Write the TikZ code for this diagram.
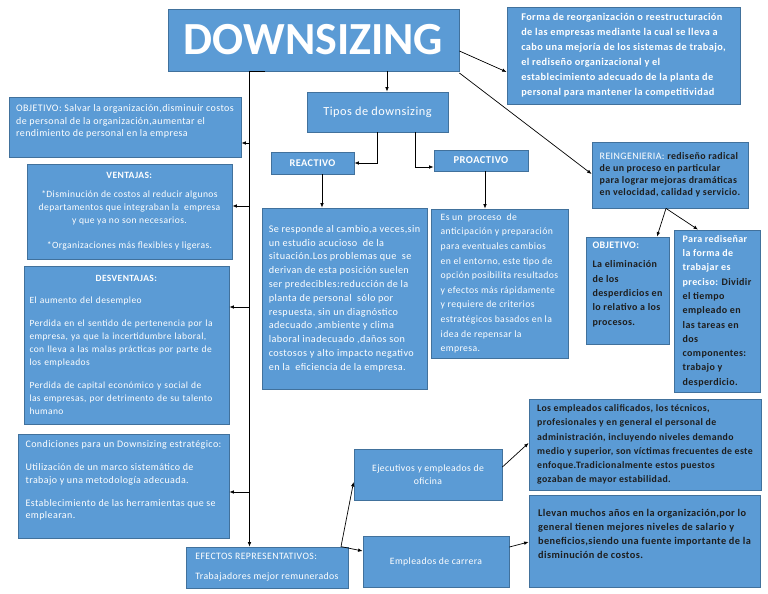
\documentclass[tikz,border=0pt]{standalone}
\usepackage{fontspec}
\setmainfont{Carlito}[LetterSpace=4]
\newfontfamily\titlef{Carlito}
\usetikzlibrary{arrows.meta}
\definecolor{boxc}{HTML}{5B9BD5}
\definecolor{bdr}{HTML}{41719C}
\definecolor{dk}{HTML}{1E1E1E}
\newcommand\fsz[2]{\fontsize{#1}{#2}\selectfont}
\begin{document}
\begin{tikzpicture}[x=1pt,y=-1pt,
  bx/.style={draw=bdr, fill=boxc, line width=0.8pt, text=white, inner sep=0pt},
  arr/.style={-{Latex[length=4.5pt,width=3.6pt]}, line width=0.7pt},
  ln/.style={line width=0.7pt}]
\useasboundingbox[fill=white] (0,0) rectangle (768,594);
% main title
\node[bx,minimum width=291pt,minimum height=62pt,font=\titlef\bfseries\fsz{46}{50}] (ds) at (313.5,40) {DOWNSIZING};
\node[bx,minimum width=233pt,minimum height=97pt,align=left,font=\bfseries\fsz{10.3}{15}] (def) at (623.5,55.5)
 {Forma de reorganización o reestructuración\\de las empresas mediante la cual se lleva a\\cabo una mejoría de los sistemas de trabajo,\\el rediseño organizacional y el\\establecimiento adecuado de la planta de\\personal para mantener la competitividad};
% left column
\node[bx,minimum width=232pt,minimum height=60pt,align=left,font=\fsz{10}{12.5}] (obj) at (125,127)
 {OBJETIVO: Salvar la organización,disminuir costos\\de personal de la organización,aumentar el\\rendimiento de personal en la empresa\\ \mbox{}};
\node[bx,minimum width=205pt,minimum height=95pt,align=center,font=\fsz{9.6}{13}] (ven) at (129.5,211.5)
 {\textbf{VENTAJAS:}\\[6pt] *Disminución de costos al reducir algunos\\departamentos que integraban la\ \ empresa\\y que ya no son necesarios.\\[12pt]*Organizaciones más flexibles y ligeras.};
\node[bx,minimum width=205pt,minimum height=158pt,text width=194pt,align=left,font=\fsz{9.5}{13}] (des) at (126.5,345)
 {\makebox[\linewidth]{\textbf{DESVENTAJAS:}}\\[9pt]El aumento del desempleo\\[10pt]Perdida en el sentido de pertenencia por la\\empresa, ya que la incertidumbre laboral,\\con lleva a las malas prácticas por parte de\\los empleados\\[10pt]Perdida de capital económico y social de\\las empresas, por detrimento de su talento\\humano};
\node[bx,minimum width=211pt,minimum height=104pt,align=left,font=\fsz{10}{12.5}] (con) at (123.5,486)
 {Condiciones para un Downsizing estratégico:\\[10.5pt]Utilización de un marco sistemático de\\trabajo y una metodología adecuada.\\[10.5pt]Establecimiento de las herramientas que se\\emplearan.\\ \mbox{}};
\node[bx,minimum width=162pt,minimum height=41pt,align=left,font=\fsz{9.8}{12.5}] (efe) at (267,567.5)
 {EFECTOS REPRESENTATIVOS:\\[7.5pt]Trabajadores mejor remunerados};
% types
\node[bx,minimum width=141pt,minimum height=40pt,font=\fsz{12.3}{14}] (tip) at (377.5,112) {Tipos de downsizing};
\node[bx,minimum width=83pt,minimum height=22pt,font=\bfseries\fsz{10.3}{12}] (rea) at (312.5,163) {REACTIVO};
\node[bx,minimum width=94pt,minimum height=21pt,font=\bfseries\fsz{10.5}{12}] (pro) at (481,160.5) {PROACTIVO};
\node[bx,minimum width=165pt,minimum height=181pt,align=left,font=\fsz{10.2}{13.8}] (rtx) at (344.5,298.5)
 {Se responde al cambio,a veces,sin\\un estudio acucioso\ \ de la\\situación.Los problemas que\ \ se\\derivan de esta posición suelen\\ser predecibles:reducción de la\\planta de personal\ \ sólo por\\respuesta, sin un diagnóstico\\adecuado ,ambiente y clima\\laboral inadecuado ,daños son\\costosos y alto impacto negativo\\en la\ \ eficiencia de la empresa.};
\node[bx,minimum width=137pt,minimum height=149pt,align=left,font=\fsz{9.7}{14.6}] (ptx) at (499.5,283.5)
 {Es un\ \ proceso\ \ de\\anticipación y preparación\\para eventuales cambios\\en el entorno, este tipo de\\opción posibilita resultados\\y efectos más rápidamente\\y requiere de criterios\\estratégicos basados en la\\idea de repensar la\\empresa.};
% reingenieria
\node[bx,minimum width=156pt,minimum height=66pt,align=left,font=\fsz{9.9}{11.8}] (rei) at (670,175)
 {REINGENIERIA: \textcolor{dk}{\bfseries rediseño radical}\\\textcolor{dk}{\bfseries de un proceso en particular}\\\textcolor{dk}{\bfseries para lograr mejoras dramáticas}\\\textcolor{dk}{\bfseries en velocidad, calidad y servicio.}};
\node[bx,minimum width=83pt,minimum height=107pt,align=left,font=\bfseries\fsz{10}{14.3}] (ob2) at (627.5,290.5)
 {OBJETIVO:\\[5.5pt]\textcolor{dk}{La eliminación}\\\textcolor{dk}{de los}\\\textcolor{dk}{desperdicios en}\\\textcolor{dk}{lo relativo a los}\\\textcolor{dk}{procesos.}\\ \mbox{}};
\node[bx,minimum width=86pt,minimum height=162pt,align=left,font=\bfseries\fsz{10}{14.3}] (par) at (717,311)
 {Para rediseñar\\la forma de\\trabajar es\\preciso: \textcolor{dk}{Dividir}\\\textcolor{dk}{el tiempo}\\\textcolor{dk}{empleado en}\\\textcolor{dk}{las tareas en}\\\textcolor{dk}{dos}\\\textcolor{dk}{componentes:}\\\textcolor{dk}{trabajo y}\\\textcolor{dk}{desperdicio.}};
% bottom right
\node[bx,minimum width=148pt,minimum height=51pt,align=center,font=\fsz{9.7}{13.3}] (eje) at (428,474.5)
 {Ejecutivos y empleados de\\oficina};
\node[bx,minimum width=232pt,minimum height=91pt,align=left,text=dk,font=\bfseries\fsz{9.8}{14.2}] (emp) at (645,444.5)
 {Los empleados calificados, los técnicos,\\profesionales y en general el personal de\\administración, incluyendo niveles demando\\medio y superior, son víctimas frecuentes de este\\enfoque.Tradicionalmente estos puestos\\gozaban de mayor estabilidad.};
\node[bx,minimum width=146pt,minimum height=51pt,font=\fsz{9.7}{12}] (car) at (436,561.5) {Empleados de carrera};
\node[bx,minimum width=231pt,minimum height=92pt,align=left,text=dk,font=\bfseries\fsz{10.3}{13.9}] (lle) at (644.5,541)
 {Llevan muchos años en la organización,por lo\\general tienen mejores niveles de salario y\\beneficios,siendo una fuente importante de la\\disminución de costos.\\ \mbox{}};
% connectors
\coordinate (stub) at (265,0);
\coordinate (spx) at (249.5,0);
\draw[arr] (ds.south -| stub) -- (ds.south -| spx) -- (efe.north -| spx);
\draw[arr] (spx |- 0,143) -- (obj.east |- 0,143);
\draw[arr] (spx |- 0,206) -- (ven.east |- 0,206);
\draw[arr] (spx |- 0,307) -- (des.east |- 0,307);
\draw[arr] (spx |- 0,492) -- (con.east |- 0,492);
\coordinate (tx) at (387,0);
\draw[arr] (ds.south -| tx) -- (tip.north -| tx);
\coordinate (ta) at (377,0);
\coordinate (tb) at (415,0);
\draw[arr] (tip.south -| ta) |- (rea.east);
\draw[arr] (tip.south -| tb) |- (pro.west |- 0,167);
\coordinate (ra) at (322,0);
\coordinate (pa) at (485,0);
\draw[arr] (rea.south -| ra) -- (rtx.north -| ra);
\draw[arr] (pro.south -| pa) -- (ptx.north -| pa);
\draw[arr] (ds.east |- 0,51) -- (def.west |- 0,72);
\draw[arr] (ds.east |- 0,73) -- (rei.west |- 0,174);
\coordinate (rb) at (666,0);
\coordinate (oa) at (657,0);
\coordinate (pb) at (698,0);
\draw[arr] (rei.south -| rb) -- (ob2.north -| oa);
\draw[arr] (rei.south -| rb) -- (par.north -| pb);
\coordinate (ef) at (341,0);
\draw[arr] (efe.north -| ef) -- (eje.west |- 0,482);
\draw[arr] (efe.north -| ef) -- (car.west |- 0,551);
\draw[arr] (eje.east |- 0,467) -- (emp.west |- 0,443);
\draw[arr] (car.east |- 0,547) -- (lle.west |- 0,542);
\end{tikzpicture}
\end{document}
